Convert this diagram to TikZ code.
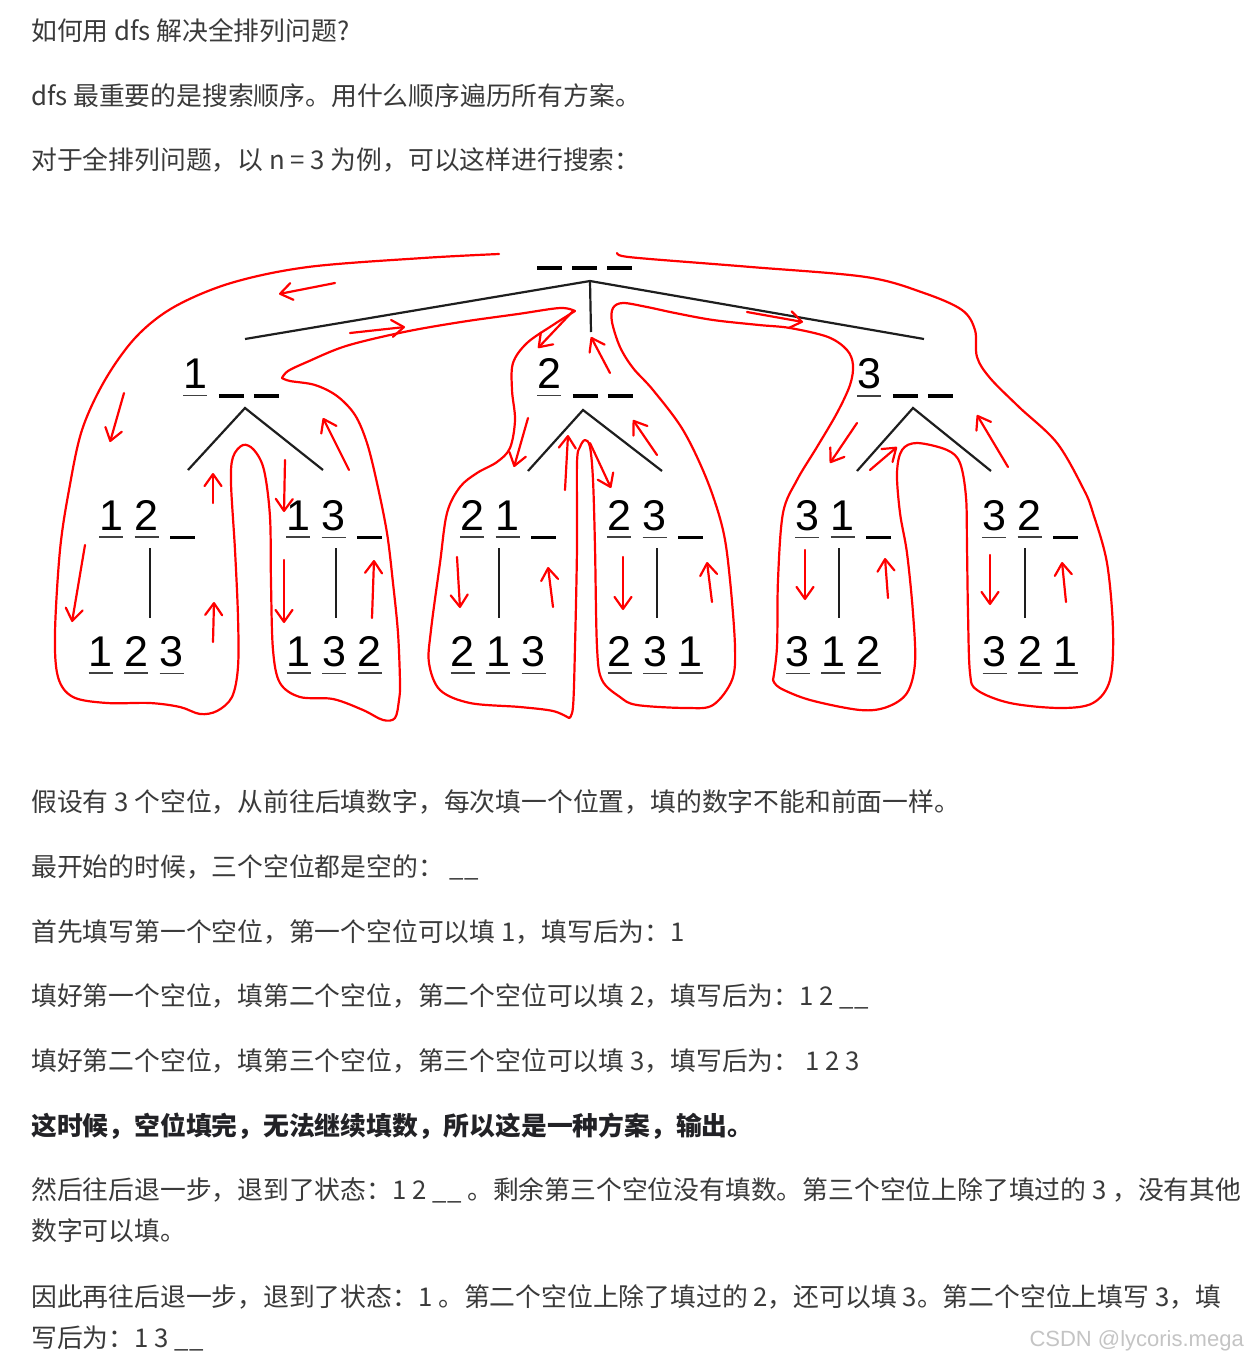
\documentclass[tikz,border=0pt]{standalone}
\usepackage{fontspec}
\setmainfont{Noto Sans CJK SC}
\newfontfamily\digf{Liberation Sans}
\newfontfamily\wmf{Liberation Sans}
\usetikzlibrary{arrows.meta}
\definecolor{txt}{HTML}{3A3A3A}
\definecolor{txtb}{HTML}{222226}
\definecolor{ulg}{HTML}{404040}
\definecolor{wmc}{HTML}{C4C4C4}
\definecolor{treec}{HTML}{1E1E1E}
\newcommand\digslot[1]{\vtop{\offinterlineskip\hbox to 24pt{\hss#1\hss}\kern6pt\hbox{\color{ulg}\rule{24pt}{1.7pt}}}}
\newcommand\blankslot{\vtop{\offinterlineskip\hbox to 25pt{\hss\phantom{0}\hss}\kern4.9pt\hbox{\rule{25pt}{3.8pt}}}}
\newcommand\slotgap{\hspace{11.5pt}}
\tikzset{
  statenode/.style={anchor=base, inner sep=0pt, font=\digf\fontsize{43}{43}\selectfont},
  treeline/.style={line width=2.2pt, treec},
  redc/.style={red, line width=2.2pt, line cap=round, line join=round},
  redarr/.style={redc, -{Straight Barb[length=12pt,width=17pt,round]}},
  body/.style={anchor=base west, inner sep=0pt, text=txt, font=\fontsize{25.8}{30}\selectfont},
}
\begin{document}
\begin{tikzpicture}[x=1pt,y=-1pt]
\fill[white] (0,0) rectangle (1248,1358);
\useasboundingbox (0,0) rectangle (1248,1358);

% ---------- text ----------
\node[body] (t1) at (31,40.5) {如何用 dfs 解决全排列问题?};
\node[body] (t2) at (31,105.5) {dfs 最重要的是搜索顺序。用什么顺序遍历所有方案。};
\node[body] (t3) at (31,169.5) {对于全排列问题，以 n = 3 为例，可以这样进行搜索：};
\node[body] (t4) at (31,811.5) {假设有 3 个空位，从前往后填数字，每次填一个位置，填的数字不能和前面一样。};
\node[body] (t5) at (31,876.5) {最开始的时候，三个空位都是空的：~\_\_};
\node[body] (t6) at (31,941.5) {首先填写第一个空位，第一个空位可以填 1，填写后为：1};
\node[body] (t7) at (31,1005.5) {填好第一个空位，填第二个空位，第二个空位可以填 2，填写后为：1 2 \_\_};
\node[body] (t8) at (31,1070.5) {填好第二个空位，填第三个空位，第三个空位可以填 3，填写后为：~1 2 3};
\node[body, text=txtb, font=\fontsize{25.8}{30}\selectfont\bfseries] (t9) at (31,1135.5) {这时候，空位填完，无法继续填数，所以这是一种方案，输出。};
\node[body] (t10) at (31,1199.5) {然后往后退一步，退到了状态：1 2 \_\_ 。剩余第三个空位没有填数。第三个空位上除了填过的 3 ，没有其他};
\node[body] (t11) at (31,1240.5) {数字可以填。};
\node[body] (t12) at (31,1306.5) {因此再往后退一步，退到了状态：1 。第二个空位上除了填过的 2，还可以填 3。第二个空位上填写 3，填};
\node[body] (t13) at (31,1347.5) {写后为：1 3 \_\_};
\node[anchor=base east, inner sep=0pt, text=wmc, font=\wmf\fontsize{22}{24}\selectfont] (wm) at (1244,1346) {CSDN @lycoris.mega};

% ---------- tree states ----------
\node[statenode] (root) at (584.5,260.7) {\blankslot\hspace{10pt}\blankslot\hspace{10pt}\blankslot};
\node[statenode] (s1) at (231,388.7) {\digslot{1}\slotgap\blankslot\hspace{10pt}\blankslot};
\node[statenode] (s2) at (585,388.7) {\digslot{2}\slotgap\blankslot\hspace{10pt}\blankslot};
\node[statenode] (s3) at (905,388.7) {\digslot{3}\slotgap\blankslot\hspace{10pt}\blankslot};

\node[statenode] (s12) at (147,530.2) {\digslot{1}\slotgap\digslot{2}\slotgap\blankslot};
\node[statenode] (s13) at (334,530.2) {\digslot{1}\slotgap\digslot{3}\slotgap\blankslot};
\node[statenode] (s21) at (508,530.2) {\digslot{2}\slotgap\digslot{1}\slotgap\blankslot};
\node[statenode] (s23) at (655,530.2) {\digslot{2}\slotgap\digslot{3}\slotgap\blankslot};
\node[statenode] (s31) at (843,530.2) {\digslot{3}\slotgap\digslot{1}\slotgap\blankslot};
\node[statenode] (s32) at (1030,530.2) {\digslot{3}\slotgap\digslot{2}\slotgap\blankslot};

\node[statenode] (s123) at (136,666.2) {\digslot{1}\slotgap\digslot{2}\slotgap\digslot{3}};
\node[statenode] (s132) at (334,666.2) {\digslot{1}\slotgap\digslot{3}\slotgap\digslot{2}};
\node[statenode] (s213) at (498,666.2) {\digslot{2}\slotgap\digslot{1}\slotgap\digslot{3}};
\node[statenode] (s231) at (655,666.2) {\digslot{2}\slotgap\digslot{3}\slotgap\digslot{1}};
\node[statenode] (s312) at (833,666.2) {\digslot{3}\slotgap\digslot{1}\slotgap\digslot{2}};
\node[statenode] (s321) at (1030,666.2) {\digslot{3}\slotgap\digslot{2}\slotgap\digslot{1}};

% ---------- tree lines ----------
\coordinate (R) at (590,281);
\coordinate (RL) at (245,339);
\coordinate (RR) at (924,339);
\coordinate (RM) at (591,332);
\draw[treeline] (RL) -- (R) -- (RR);
\draw[treeline] (R) -- (RM);

\coordinate (A1) at (245,408); \coordinate (A1l) at (188,470); \coordinate (A1r) at (323,470);
\coordinate (A2) at (583,410); \coordinate (A2l) at (528,471); \coordinate (A2r) at (662,471);
\coordinate (A3) at (913,408); \coordinate (A3l) at (857,471); \coordinate (A3r) at (991,471);
\draw[treeline] (A1l) -- (A1) -- (A1r);
\draw[treeline] (A2l) -- (A2) -- (A2r);
\draw[treeline] (A3l) -- (A3) -- (A3r);

\foreach \n/\xx in {a/150,b/336,c/499,d/657,e/839,f/1025}{
  \coordinate (v\n1) at (\xx,548); \coordinate (v\n2) at (\xx,618);
  \draw[line width=1.7pt, treec] (v\n1) -- (v\n2);
}

% ---------- red path ----------
\draw[redc] plot[smooth, tension=0.55] coordinates {(499,254) (423,258) (308,267) (231,283) (174,307) (136,337) (105,380) (82,430) (69,490) (60,550) (55,633) (58,677) (73,697) (107,703) (150,703) (180,707) (200,714) (217,711) (232,697) (238,667) (238,617) (235,550) (231,483) (233,457) (243,445) (254,450) (264,470) (270,517) (271,583) (273,650) (280,683) (300,697) (333,699) (363,710) (383,720) (395,718) (399,700) (400,683) (398,633) (393,583) (387,533) (377,483) (367,443) (355,415) (337,396) (315,385) (290,381) (282,378)};
\draw[redc] plot[smooth, tension=0.55] coordinates {(282,378) (288,371) (307,362) (346,346) (404,332) (461,322) (518,314) (560,308) (575,311)};
\draw[redc] plot[smooth, tension=0.55] coordinates {(575,311) (553,325) (527,343) (513,363) (512,390) (515,420) (510,448) (497,462) (477,473) (460,487) (447,513) (440,563) (431,630) (429,663) (440,690) (470,703) (520,707) (553,711) (569,718)};
\draw[redc] plot[smooth, tension=0.55] coordinates {(569,718) (573,707) (575,647) (577,547) (577,463) (580,447) (585,440) (590,447) (593,480) (595,547) (597,647) (602,680) (620,697) (637,705) (687,708) (713,705) (732,680) (735,647) (730,580) (723,530) (707,480) (683,430) (653,390) (633,368) (620,347) (612,322) (613,308) (623,303) (647,307) (675,313) (713,320) (759,325) (790,328) (828,337) (847,350) (853,365) (850,385) (837,413) (817,447) (797,480) (783,513) (778,580) (777,647) (773,680)};
\draw[redc] plot[smooth, tension=0.55] coordinates {(773,680) (780,688) (810,700) (860,710) (887,707) (907,693) (915,663) (913,613) (907,553) (900,513) (897,473) (902,450) (917,443) (947,450) (960,463) (966,497) (967,547) (968,613) (970,673) (977,690) (1010,703) (1060,708) (1093,703) (1110,680) (1113,630) (1107,563) (1093,513) (1084,490) (1057,443) (1019,407) (990,378) (977,357) (975,330) (962,310) (924,293) (866,277) (751,267) (650,259) (622,256) (617,253)};

% ---------- red arrows ----------
\foreach \xa/\ya/\xb/\yb in {
  335/283/279/294, 350/333/405/327, 124/393/110/442,
  213/503/213/473, 285/460/284/512, 349/470/323/418,
  85/545/72/622, 213/642/214/602, 284/560/284/623, 372/618/374/560,
  573/311/538/348, 610/373/591/337, 528/418/514/467,
  565/490/568/435, 590/443/611/488, 657/455/633/420,
  457/557/460/608, 553/607/548/567, 623/557/623/610, 712/602/707/562,
  747/312/803/322, 857/423/830/463, 870/470/897/447, 1008/467/977/415,
  805/550/805/600, 888/598/885/558, 990/555/990/605, 1066/602/1062/562}{
  \draw[redarr] (\xa,\ya) -- (\xb,\yb);
}
\end{tikzpicture}
\end{document}
